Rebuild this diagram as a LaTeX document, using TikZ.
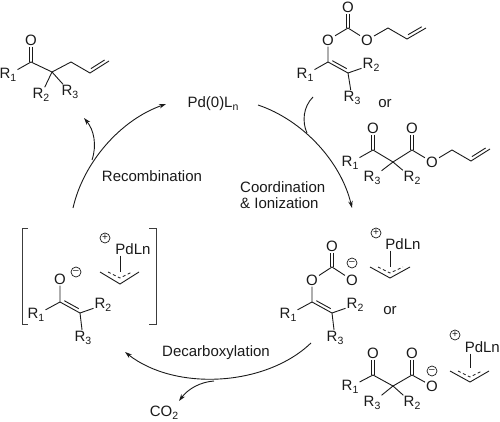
\documentclass[tikz,border=0pt]{standalone}
\usepackage{fontspec}
\setmainfont{Liberation Sans}
\usetikzlibrary{arrows.meta,calc}
\definecolor{bondink}{HTML}{1A1A1A}
\definecolor{bracketink}{HTML}{3C3C3C}
\newcommand{\subnum}[1]{\raisebox{-0.35ex}{\fontsize{10.5}{11}\selectfont #1}}
\newcommand{\innerbond}[2]{\draw[bond] ($(#1)!.14!(#2)!3.2pt!90:(#2)$) -- ($(#2)!.14!(#1)!-3.2pt!90:(#1)$);}

\begin{document}
\begin{tikzpicture}[x=1pt,y=-1pt,
  atom/.style={inner sep=1pt,text=bondink,font=\fontsize{15}{17}\selectfont},
  word/.style={inner sep=0pt,text=bondink,align=left,font=\fontsize{15}{17}\selectfont},
  charge/.style={circle,draw=bondink,line width=0.7pt,inner sep=0pt,minimum size=10pt,
    text=bondink,font=\fontsize{10}{10}\selectfont},
  bond/.style={line width=0.9pt,draw=bondink},
  dbond/.style={bond,double=white,double distance=2.4pt,line width=0.8pt},
  allylback/.style={line width=0.8pt,draw=bondink,dash pattern=on 3pt off 2.5pt},
  cycle/.style={line width=0.9pt,draw=bondink,looseness=.87,-{Stealth[length=7pt,width=4.5pt]}},
  branch/.style={line width=0.9pt,draw=bondink,-{Stealth[length=7pt,width=4.5pt]}},
  plainarc/.style={line width=0.9pt,draw=bondink},
  bracket/.style={line width=1pt,draw=bracketink}
]
  \useasboundingbox (0,0) rectangle (500,422);

  % product, top left
  \node[atom] (pO) at (31,40) {O};
  \coordinate (pC) at (31,62);
  \coordinate (pQ) at (52,72);
  \coordinate (pA) at (71,62);
  \coordinate (pB) at (90,73);
  \coordinate (pD) at (109,61);
  \node[atom] (pR1) at (8,75) {R\subnum{1}};
  \node[atom] (pR2) at (41,95) {R\subnum{2}};
  \node[atom] (pR3) at (70,92) {R\subnum{3}};
  \draw[dbond] (pO) -- (pC);
  \draw[bond] (pR1) -- (pC) -- (pQ) -- (pA) -- (pB) -- (pD);
  \draw[bond] (pQ) -- (pR2);
  \draw[bond] (pQ) -- (pR3);
  \innerbond{pB}{pD}

  % allyl enol carbonate, top right
  \node[atom] (aO1) at (348,7) {O};
  \coordinate (aC) at (348,28);
  \node[atom] (aO2) at (328,40) {O};
  \node[atom] (aO3) at (367,40) {O};
  \coordinate (aA) at (388,28);
  \coordinate (aB) at (407,39);
  \coordinate (aD) at (426,28);
  \coordinate (aE) at (328,62);
  \coordinate (aF) at (348,73);
  \node[atom] (aR1) at (305,75) {R\subnum{1}};
  \node[atom] (aR2) at (371,65) {R\subnum{2}};
  \node[atom] (aR3) at (352,98) {R\subnum{3}};
  \draw[dbond] (aO1) -- (aC);
  \draw[bond] (aO2) -- (aC) -- (aO3) -- (aA) -- (aB) -- (aD);
  \innerbond{aB}{aD}
  \draw[bond] (aO2) -- (aE) -- (aF) -- (aR3);
  \draw[bond] (aE) -- (aR1);
  \draw[bond] (aF) -- (aR2);
  \innerbond{aE}{aF}
  \node[word] (or1) at (385,104) {or};

  % allyl keto ester, top right
  \node[atom] (bO1) at (373,128) {O};
  \coordinate (bC1) at (373,150);
  \coordinate (bQ) at (393,162);
  \coordinate (bC2) at (412,150);
  \node[atom] (bO2) at (412,128) {O};
  \node[atom] (bO3) at (432,162) {O};
  \coordinate (bA) at (452,150);
  \coordinate (bB) at (471,161);
  \coordinate (bD) at (490,149);
  \node[atom] (bR1) at (350,163) {R\subnum{1}};
  \node[atom] (bR3) at (372,178) {R\subnum{3}};
  \node[atom] (bR2) at (412,178) {R\subnum{2}};
  \draw[dbond] (bO1) -- (bC1);
  \draw[dbond] (bO2) -- (bC2);
  \draw[bond] (bR1) -- (bC1) -- (bQ) -- (bC2) -- (bO3) -- (bA) -- (bB) -- (bD);
  \draw[bond] (bQ) -- (bR3);
  \draw[bond] (bQ) -- (bR2);
  \innerbond{bB}{bD}

  % enol carbonate anion, lower right
  \node[atom] (cO1) at (332,246) {O};
  \coordinate (cC) at (332,267);
  \node[atom] (cO2) at (312,280) {O};
  \node[atom] (cO3) at (352,280) {O};
  \node[charge] (cM) at (352,263) {–};
  \coordinate (cE) at (312,302);
  \coordinate (cF) at (332,313);
  \node[atom] (cR1) at (288,315) {R\subnum{1}};
  \node[atom] (cR2) at (355,305) {R\subnum{2}};
  \node[atom] (cR3) at (335,338) {R\subnum{3}};
  \draw[dbond] (cO1) -- (cC);
  \draw[bond] (cO2) -- (cC) -- (cO3);
  \draw[bond] (cO2) -- (cE) -- (cF) -- (cR3);
  \draw[bond] (cE) -- (cR1);
  \draw[bond] (cF) -- (cR2);
  \innerbond{cE}{cF}
  \node[word] (or2) at (390,311) {or};

  % palladium allyl, next to it
  \node[charge] (cP) at (376,233) {+};
  \node[atom] (cPd) at (403,244) {PdLn};
  \coordinate (cL) at (370,267);
  \coordinate (cT) at (390,278);
  \coordinate (cU) at (410,267);
  \coordinate (cV) at (390,267);
  \draw[bond] (cL) -- (cT) -- (cU);
  \draw[bond] (cPd.south -| cV) -- (cV);
  \draw[allylback] (378,267) -- (390,273) -- (403,267);

  % keto ester anion, lower right
  \node[atom] (dO1) at (373,353) {O};
  \coordinate (dC1) at (373,375);
  \coordinate (dQ) at (393,386);
  \coordinate (dC2) at (412,375);
  \node[atom] (dO2) at (412,353) {O};
  \node[atom] (dO3) at (432,386) {O};
  \node[charge] (dM) at (432,371) {–};
  \node[atom] (dR1) at (350,387) {R\subnum{1}};
  \node[atom] (dR3) at (372,403) {R\subnum{3}};
  \node[atom] (dR2) at (412,403) {R\subnum{2}};
  \draw[dbond] (dO1) -- (dC1);
  \draw[dbond] (dO2) -- (dC2);
  \draw[bond] (dR1) -- (dC1) -- (dQ) -- (dC2) -- (dO3);
  \draw[bond] (dQ) -- (dR3);
  \draw[bond] (dQ) -- (dR2);

  \node[charge] (dP) at (455,335) {+};
  \node[atom,anchor=east] (dPd) at (501,347) {PdLn};
  \coordinate (dL) at (450,371);
  \coordinate (dT) at (470,382);
  \coordinate (dU) at (489,371);
  \coordinate (dV) at (470,368);
  \draw[bond] (dL) -- (dT) -- (dU);
  \draw[bond] (dPd.south -| dV) -- (dV);
  \draw[allylback] (458,371) -- (470,377) -- (482,371);

  % enolate in brackets, left
  \node[atom] (eO) at (60,279) {O};
  \node[charge] (eM) at (76,272) {–};
  \coordinate (eE) at (60,302);
  \coordinate (eF) at (80,313);
  \node[atom] (eR1) at (36,315) {R\subnum{1}};
  \node[atom] (eR2) at (103,305) {R\subnum{2}};
  \node[atom] (eR3) at (83,338) {R\subnum{3}};
  \draw[bond] (eO) -- (eE) -- (eF) -- (eR3);
  \draw[bond] (eE) -- (eR1);
  \draw[bond] (eF) -- (eR2);
  \innerbond{eE}{eF}
  \node[charge] (eP) at (105,238) {+};
  \node[atom] (ePd) at (133,249) {PdLn};
  \coordinate (eL) at (100,272);
  \coordinate (eT) at (120,284);
  \coordinate (eU) at (139,272);
  \coordinate (eV) at (120,272);
  \draw[bond] (eL) -- (eT) -- (eU);
  \draw[bond] (ePd.south -| eV) -- (eV);
  \draw[allylback] (108,272) -- (120,278) -- (132,272);
  \draw[bracket] (28,228) -- (22,228) -- (22,324) -- (28,324);
  \draw[bracket] (149,228) -- (156,228) -- (156,324) -- (149,324);

  % catalytic cycle
  \node[word] (cat) at (213,104) {Pd(0)L\subnum{n}};
  \node[word] (recomb) at (152,176) {Recombination};
  \node[word,anchor=west] (coord) at (240,195) {Coordination\\[-1pt]\& Ionization};
  \node[word] (decarb) at (216,353) {Decarboxylation};
  \node[atom] (co2) at (164,413) {CO\subnum{2}};

  \coordinate (lStart) at (73,208);
  \coordinate (lEnd) at (166,104);
  \coordinate (rStart) at (258,105);
  \coordinate (rEnd) at (352,208);
  \coordinate (bStart) at (311,343);
  \coordinate (bEnd) at (125,352);
  \draw[cycle] (lStart) to[bend left=29] (lEnd);
  \draw[cycle] (rStart) to[bend left=29] (rEnd);
  \draw[cycle] (bStart) to[bend left=41] (bEnd);

  \coordinate (inStart) at (313,97);
  \coordinate (inEnd) at (307,133);
  \draw[plainarc] (inStart) .. controls (303,107) and (302,122) .. (inEnd);
  \coordinate (upStart) at (92,160);
  \coordinate (upEnd) at (84,118);
  \draw[branch] (upStart) .. controls (97,145) and (94,130) .. (upEnd);
  \coordinate (co2Start) at (214,381);
  \coordinate (co2End) at (179,401);
  \draw[branch] (co2Start) .. controls (200,382) and (188,389) .. (co2End);
\end{tikzpicture}
\end{document}
